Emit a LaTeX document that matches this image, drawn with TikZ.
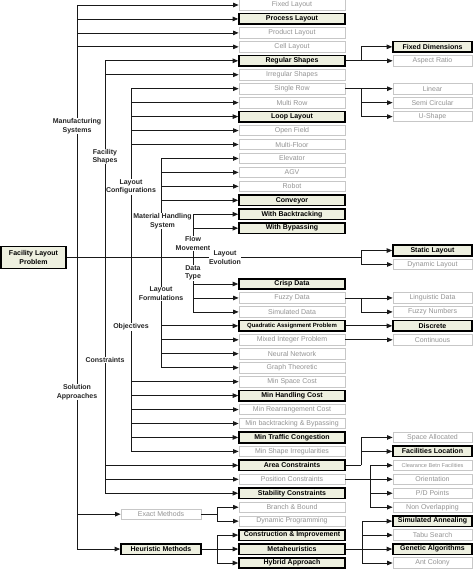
\documentclass[tikz,border=0pt]{standalone}
\usepackage{fontspec}
\setmainfont{Liberation Sans}
\usetikzlibrary{arrows.meta}
\definecolor{boxfill}{RGB}{238,240,224}
\begin{document}
\begin{tikzpicture}[x=1pt,y=-13.95pt,
  lbox/.style={draw=black!22, line width=0.8pt, fill=white, text=black!42, minimum height=10.5pt, inner sep=0pt, font=\fontsize{7}{8}\selectfont},
  bbox/.style={draw=black, line width=1.6pt, fill=boxfill, text=black, minimum height=10.5pt, inner sep=0pt, font=\fontsize{7}{8}\selectfont\bfseries},
  mid/.style={minimum width=106pt},
  rgt/.style={minimum width=79pt},
  ln/.style={draw=black!90, line width=0.8pt},
  arr/.style={ln, -{Triangle[length=5.5pt,width=4.5pt]}},
  lab/.style={fill=white, text=black!85, font=\fontsize{7}{8.5}\selectfont\bfseries, align=center, inner sep=0.4pt}
]
\useasboundingbox (0,-0.3584) rectangle (474,40.5018);

% ---------- middle column ----------
\node[lbox,mid] (m0) at (292,0) {Fixed Layout};
\node[bbox,mid] (m1) at (292,1) {Process Layout};
\node[lbox,mid] (m2) at (292,2) {Product Layout};
\node[lbox,mid] (m3) at (292,3) {Cell Layout};
\node[bbox,mid] (m4) at (292,4) {Regular Shapes};
\node[lbox,mid] (m5) at (292,5) {Irregular Shapes};
\node[lbox,mid] (m6) at (292,6) {Single Row};
\node[lbox,mid] (m7) at (292,7) {Multi Row};
\node[bbox,mid] (m8) at (292,8) {Loop Layout};
\node[lbox,mid] (m9) at (292,9) {Open Field};
\node[lbox,mid] (m10) at (292,10) {Multi-Floor};
\node[lbox,mid] (m11) at (292,11) {Elevator};
\node[lbox,mid] (m12) at (292,12) {AGV};
\node[lbox,mid] (m13) at (292,13) {Robot};
\node[bbox,mid] (m14) at (292,14) {Conveyor};
\node[bbox,mid] (m15) at (292,15) {With Backtracking};
\node[bbox,mid] (m16) at (292,16) {With Bypassing};
\node[bbox,mid] (m20) at (292,20) {Crisp Data};
\node[lbox,mid] (m21) at (292,21) {Fuzzy Data};
\node[lbox,mid] (m22) at (292,22) {Simulated Data};
\node[bbox,mid,font=\fontsize{6}{7}\selectfont\bfseries] (m23) at (292,23) {Quadratic Assignment Problem};
\node[lbox,mid] (m24) at (292,24) {Mixed Integer Problem};
\node[lbox,mid] (m25) at (292,25) {Neural Network};
\node[lbox,mid] (m26) at (292,26) {Graph Theoretic};
\node[lbox,mid] (m27) at (292,27) {Min Space Cost};
\node[bbox,mid] (m28) at (292,28) {Min Handling Cost};
\node[lbox,mid] (m29) at (292,29) {Min Rearrangement Cost};
\node[lbox,mid] (m30) at (292,30) {Min backtracking \& Bypassing};
\node[bbox,mid] (m31) at (292,31) {Min Traffic Congestion};
\node[lbox,mid] (m32) at (292,32) {Min Shape Irregularities};
\node[bbox,mid] (m33) at (292,33) {Area Constraints};
\node[lbox,mid] (m34) at (292,34) {Position Constraints};
\node[bbox,mid] (m35) at (292,35) {Stability Constraints};
\node[lbox,mid] (m36) at (292,36) {Branch \& Bound};
\node[lbox,mid] (m37) at (292,37) {Dynamic Programming};
\node[bbox,mid] (m38) at (292,38) {Construction \& Improvement};
\node[bbox,mid] (m39) at (292,39) {Metaheuristics};
\node[bbox,mid] (m40) at (292,40) {Hybrid Approach};

% ---------- right column ----------
\node[bbox,rgt] (fd) at (432.5,3) {Fixed Dimensions};
\node[lbox,rgt] (ar) at (432.5,4) {Aspect Ratio};
\node[lbox,rgt] (lin) at (432.5,6) {Linear};
\node[lbox,rgt] (semi) at (432.5,7) {Semi Circular};
\node[lbox,rgt] (ush) at (432.5,8) {U-Shape};
\node[bbox,rgt] (stat) at (432.5,17.6) {Static Layout};
\node[lbox,rgt] (dyn) at (432.5,18.6) {Dynamic Layout};
\node[lbox,rgt] (ling) at (432.5,21) {Linguistic Data};
\node[lbox,rgt] (fnum) at (432.5,22) {Fuzzy Numbers};
\node[bbox,rgt] (disc) at (432.5,23) {Discrete};
\node[lbox,rgt] (cont) at (432.5,24) {Continuous};
\node[lbox,rgt] (space) at (432.5,31) {Space Allocated};
\node[bbox,rgt] (facloc) at (432.5,32) {Facilities Location};
\node[lbox,rgt,font=\fontsize{5.6}{6.5}\selectfont] (clear) at (432.5,33) {Clearance Betn Facilities};
\node[lbox,rgt] (orient) at (432.5,34) {Orientation};
\node[lbox,rgt] (pd) at (432.5,35) {P/D Points};
\node[lbox,rgt] (nonov) at (432.5,36) {Non Overlapping};
\node[bbox,rgt] (sa) at (432.5,37) {Simulated Annealing};
\node[lbox,rgt] (tabu) at (432.5,38) {Tabu Search};
\node[bbox,rgt] (ga) at (432.5,39) {Genetic Algorithms};
\node[lbox,rgt] (ant) at (432.5,40) {Ant Colony};

% ---------- left ----------
\node[bbox,minimum width=65pt,minimum height=22pt,align=center,font=\fontsize{7}{8.5}\selectfont\bfseries] (flp) at (33.5,18.1) {Facility Layout\\Problem};
\node[lbox,minimum width=80pt] (ex) at (161,36.5) {Exact Methods};
\node[bbox,minimum width=80pt] (he) at (161,39) {Heuristic Methods};

% ---------- trunk coordinates ----------
\coordinate (T1a) at (77,0);   \coordinate (T1b) at (77,39);
\coordinate (T2a) at (105,4);  \coordinate (T2b) at (105,35);
\coordinate (T3a) at (131,6);  \coordinate (T3b) at (131,32);
\coordinate (T4a) at (161,11); \coordinate (T4b) at (161,26);
\coordinate (T5a) at (193,15); \coordinate (T5b) at (193,22);
\coordinate (LE) at (361,18.1);
\coordinate (B1) at (361,4);
\coordinate (B2) at (361,6);
\coordinate (B3) at (361,21);
\coordinate (B4) at (361,33);
\coordinate (B5) at (370,34);
\coordinate (B6) at (217,36.5);
\coordinate (B7) at (217,39);
\coordinate (B8) at (362,39);

% main line
\draw[ln,line width=1.3pt] (flp.east) -- (LE);
\draw[arr] (LE) |- (stat.west);
\draw[arr] (LE) |- (dyn.west);

% trunks
\draw[ln] (T1a) -- (T1b);
\draw[ln] (T2a) -- (T2b);
\draw[ln] (T3a) -- (T3b);
\draw[ln] (T4a) -- (T4b);
\draw[ln] (T5a) -- (T5b);

% T1 branches
\foreach \n in {m0,m1,m2,m3} \draw[arr] (T1a |- \n.west) -- (\n.west);
\draw[arr] (T1a |- ex.west) -- (ex.west);
\draw[arr] (T1a |- he.west) -- (he.west);
% T2 branches
\foreach \n in {m4,m5,m33,m34,m35} \draw[arr] (T2a |- \n.west) -- (\n.west);
% T3 branches
\foreach \n in {m6,m7,m8,m9,m10,m27,m28,m29,m30,m31,m32} \draw[arr] (T3a |- \n.west) -- (\n.west);
% T4 branches
\foreach \n in {m11,m12,m13,m14,m23,m24,m25,m26} \draw[arr] (T4a |- \n.west) -- (\n.west);
% T5 branches
\foreach \n in {m15,m16,m20,m21,m22} \draw[arr] (T5a |- \n.west) -- (\n.west);

% right-side branches
\draw[ln] (m4.east) -- (B1);
\draw[arr] (B1) |- (fd.west);
\draw[arr] (B1) -- (ar.west);
\draw[arr] (m6.east) -- (lin.west);
\draw[arr] (B2) |- (semi.west);
\draw[arr] (B2) |- (ush.west);
\draw[arr] (m21.east) -- (ling.west);
\draw[arr] (B3) |- (fnum.west);
\draw[arr] (m23.east) -- (disc.west);
\draw[arr] (m24.east) -- (cont.west);
\draw[ln] (m33.east) -- (B4);
\draw[arr] (B4) |- (space.west);
\draw[arr] (B4) |- (facloc.west);
\draw[arr] (m34.east) -- (orient.west);
\draw[arr] (B5) |- (clear.west);
\draw[arr] (B5) |- (pd.west);
\draw[arr] (B5) |- (nonov.west);
\draw[ln] (ex.east) -- (B6);
\draw[arr] (B6) |- (m36.west);
\draw[arr] (B6) |- (m37.west);
\draw[arr] (he.east) -- (m39.west);
\draw[arr] (B7) |- (m38.west);
\draw[arr] (B7) |- (m40.west);
\draw[arr] (m39.east) -- (ga.west);
\draw[arr] (B8) |- (sa.west);
\draw[arr] (B8) |- (tabu.west);
\draw[arr] (B8) |- (ant.west);

% ---------- trunk labels ----------
\node[lab] (lms) at (77,8.67) {Manufacturing\\Systems};
\node[lab] (lfs) at (105,10.86) {Facility\\Shapes};
\node[lab] (llc) at (131,13.05) {Layout\\Configurations};
\node[lab] (lmh) at (162.5,15.48) {Material Handling\\System};
\node[lab] (lfm) at (193,17.1) {Flow\\Movement};
\node[lab] (lle) at (225,18.1) {Layout\\Evolution};
\node[lab] (ldt) at (193,19.2) {Data\\Type};
\node[lab] (llf) at (161,20.7) {Layout\\Formulations};
\node[lab] (lob) at (131,23.08) {Objectives};
\node[lab] (lco) at (105,25.45) {Constraints};
\node[lab] (lsa) at (77,27.74) {Solution\\Approaches};
\end{tikzpicture}
\end{document}
